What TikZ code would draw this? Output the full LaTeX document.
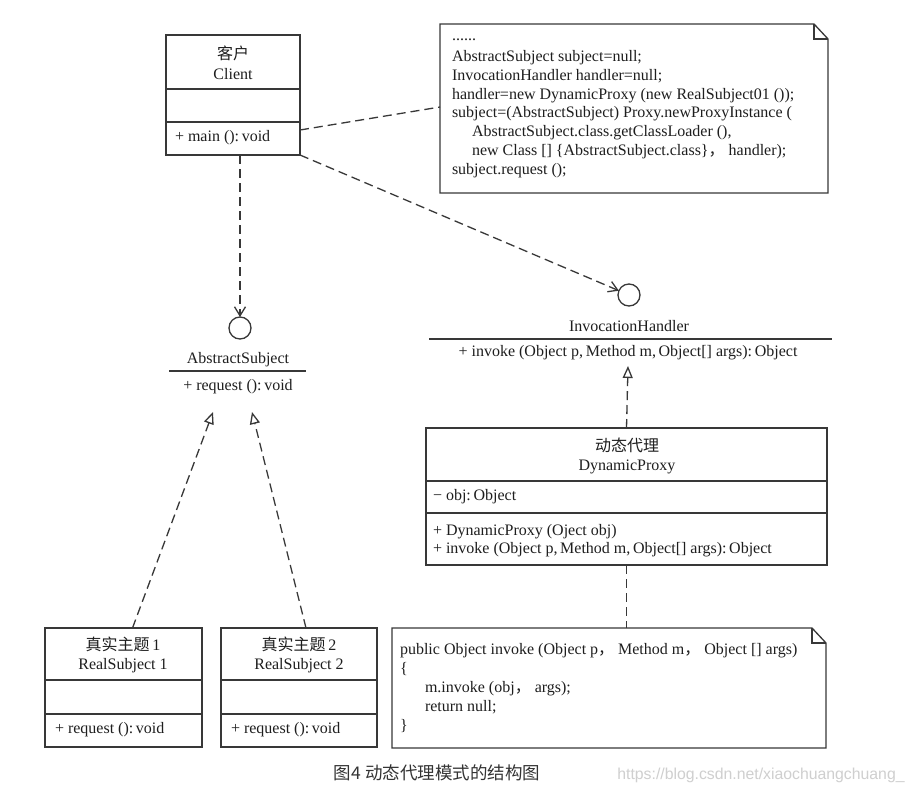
\documentclass[tikz,border=0pt]{standalone}
\usepackage{fontspec}
\setmainfont{Liberation Serif}
\newfontfamily\cjk{Noto Sans CJK SC}
\newfontfamily\wmfont{Liberation Sans}
\usetikzlibrary{arrows.meta,calc}
\definecolor{ln}{HTML}{383838}
\definecolor{tx}{HTML}{1E1E1E}
\definecolor{captx}{HTML}{333333}
\definecolor{wmtx}{HTML}{CFCFCF}
\begin{document}
\begin{tikzpicture}[x=1pt,y=-1pt,
  font=\fontsize{16}{19.5}\selectfont, text=tx,
  umlbox/.style={draw=ln, line width=1.3pt, fill=white, inner sep=0pt, outer sep=0pt, anchor=north west},
  sline/.style={draw=ln, line width=1.3pt},
  dline/.style={draw=ln, line width=1.3pt, dash pattern=on 9pt off 5pt},
  txt/.style={inner sep=0pt, outer sep=0pt},
  iface/.style={draw=ln, line width=1.3pt, circle, minimum size=22pt, inner sep=0pt, outer sep=0pt},
  barb/.style={-{Straight Barb[length=9pt,width=11pt,line width=1.3pt]}},
  realize/.style={-{Triangle[open,length=12pt,width=10pt,line width=1.3pt]}},
  notebox/.style={inner sep=0pt, outer sep=0pt, anchor=north west}
]
\useasboundingbox (0,0) rectangle (915,795);
\fill[white] (0,0) rectangle (915,795);

% ---------- Client ----------
\node[umlbox, minimum width=134pt, minimum height=120pt] (client) at (166,35) {};
\draw[sline] (166,89) -- (300,89);
\draw[sline] (166,122) -- (300,122);
\node[txt, align=center] (clientname) at (233,63) {{\cjk 客户}\\Client};
\node[txt, anchor=west] (clientop) at (175,138) {+ main ():\,void};

% ---------- Note 1 ----------
\node[notebox, minimum width=388pt, minimum height=169pt] (note1) at (440,24) {};
\draw[sline] (note1.north west) -- ($(note1.north east)+(-14,0)$) -- ($(note1.north east)+(0,15)$) -- (note1.south east) -- (note1.south west) -- cycle;
\draw[sline] ($(note1.north east)+(-14,0)$) -- ($(note1.north east)+(-14,15)$) -- ($(note1.north east)+(0,15)$);
\node[txt, anchor=base west, align=left, font=\fontsize{16}{18.7}\selectfont] (note1text) at (452,174) {%
......\\[3pt]
AbstractSubject subject=null;\\
InvocationHandler handler=null;\\
handler=new DynamicProxy (new RealSubject01 ());\\
subject=(AbstractSubject) Proxy.newProxyInstance (\\
\hspace*{20pt}AbstractSubject.class.getClassLoader (),\\
\hspace*{20pt}new Class [] \{AbstractSubject.class\}{\cjk ，} handler);\\
subject.request ();};

% ---------- AbstractSubject ----------
\node[iface] (asc) at (240,328) {};
\node[txt] (asname) at (238,360) {AbstractSubject};
\draw[sline] (169,371) -- (306,371);
\node[txt] (asop) at (238,387) {+ request ():\,void};
\coordinate (astipl) at (213,412);
\coordinate (astipr) at (252,412);

% ---------- InvocationHandler ----------
\node[iface] (ihc) at (629,295) {};
\node[txt] (ihname) at (629,326) {InvocationHandler};
\draw[sline] (429,339) -- (832,339);
\node[txt] (ihop) at (628,353) {+ invoke (Object p,\,Method m,\,Object[] args):\,Object};
\coordinate (ihtip) at (628,366);

% ---------- DynamicProxy ----------
\node[umlbox, minimum width=401pt, minimum height=137pt] (dp) at (426,428) {};
\draw[sline] (426,481) -- (827,481);
\draw[sline] (426,513) -- (827,513);
\node[txt, align=center] (dpname) at (627,456) {{\cjk 动态代理}\\DynamicProxy};
\node[txt, anchor=west] (dpattr) at (433,497) {− obj:\,Object};
\node[txt, anchor=base west, align=left, font=\fontsize{16}{18.5}\selectfont] (dpops) at (433,553.5) {+ DynamicProxy (Oject obj)\\+ invoke (Object p,\,Method m,\,Object[] args):\,Object};

% ---------- Note 2 ----------
\node[notebox, minimum width=434pt, minimum height=120pt] (note2) at (392,628) {};
\draw[sline] (note2.north west) -- ($(note2.north east)+(-14,0)$) -- ($(note2.north east)+(0,15)$) -- (note2.south east) -- (note2.south west) -- cycle;
\draw[sline] ($(note2.north east)+(-14,0)$) -- ($(note2.north east)+(-14,15)$) -- ($(note2.north east)+(0,15)$);
\node[txt, anchor=base west, align=left, font=\fontsize{16}{18.8}\selectfont] (note2text) at (400,730) {%
public Object invoke (Object p{\cjk ，} Method m{\cjk ，} Object [] args)\\
\{\\
\hspace*{25pt}m.invoke (obj{\cjk ，} args);\\
\hspace*{25pt}return null;\\
\}};

% ---------- RealSubject 1 ----------
\node[umlbox, minimum width=157pt, minimum height=119pt] (rs1) at (45,628) {};
\draw[sline] (45,680) -- (202,680);
\draw[sline] (45,714) -- (202,714);
\node[txt, align=center] (rs1name) at (123,655) {{\cjk 真实主题}\,1\\RealSubject 1};
\node[txt, anchor=west] (rs1op) at (55,730) {+ request ():\,void};

% ---------- RealSubject 2 ----------
\node[umlbox, minimum width=156pt, minimum height=119pt] (rs2) at (221,628) {};
\draw[sline] (221,680) -- (377,680);
\draw[sline] (221,714) -- (377,714);
\node[txt, align=center] (rs2name) at (299,655) {{\cjk 真实主题}\,2\\RealSubject 2};
\node[txt, anchor=west] (rs2op) at (231,730) {+ request ():\,void};

% ---------- Connectors ----------
\coordinate (cn1) at (300,130);
\coordinate (cn2) at (440,107);
\draw[dline] (cn1) -- (cn2);
\draw[dline, barb] ($(client.south)+(7,0)$) -- (asc.north);
\draw[dline, barb] (client.south east) -- (ihc);
\draw[dline, realize] (dp.north) -- (ihtip);
\draw[dline] (dp.south) -- (dp.south |- note2.north);
\draw[dline, realize] ($(rs1.north)+(9,0)$) -- (astipl);
\draw[dline, realize] ($(rs2.north)+(7,0)$) -- (astipr);

% ---------- Caption ----------
\node[txt, text=captx, font=\cjk\fontsize{17.5}{20}\selectfont] (caption) at (437,773) {图4 动态代理模式的结构图};
\node[txt, text=wmtx, font=\wmfont\fontsize{15.8}{18}\selectfont] (watermark) at (761,775) {https://blog.csdn.net/xiaochuangchuang\_};
\end{tikzpicture}
\end{document}
